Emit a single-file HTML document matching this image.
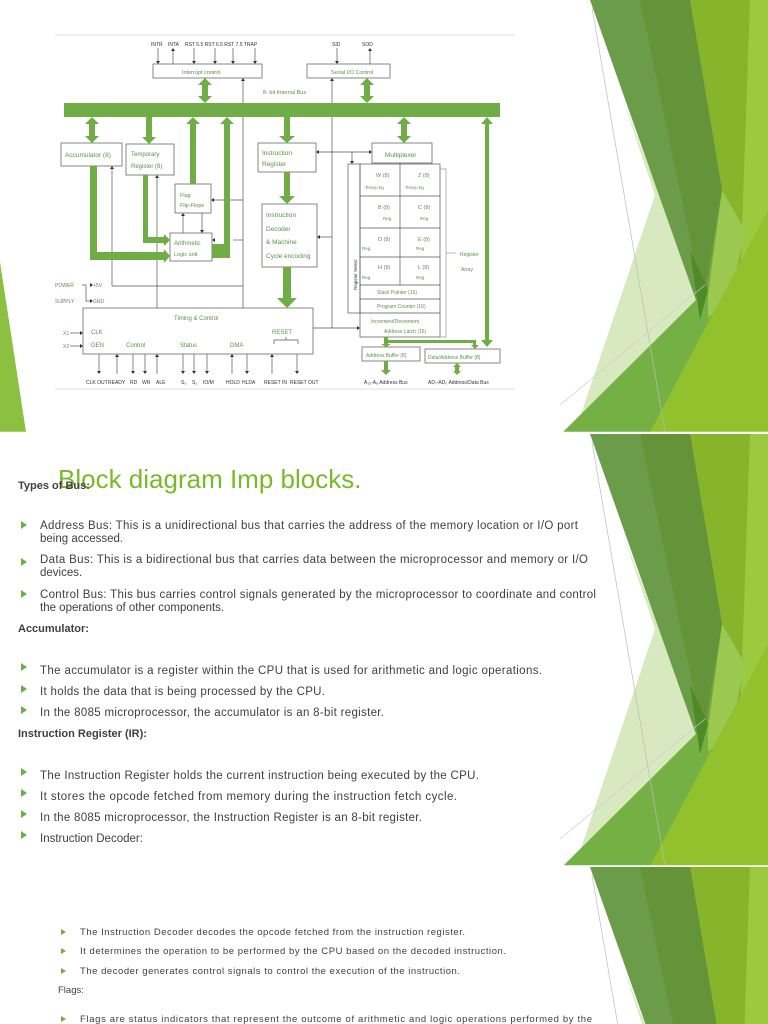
<!DOCTYPE html>
<html><head><meta charset="utf-8"><style>
html,body{margin:0;padding:0;background:#fff;width:768px;height:1024px;overflow:hidden}
svg{display:block}
.t{font-family:"Liberation Sans",sans-serif}
</style></head><body>
<svg width="768" height="1024" viewBox="0 0 768 1024" xmlns="http://www.w3.org/2000/svg">
<defs>
<clipPath id="cs"><rect x="0" y="0" width="768" height="432"/></clipPath>
<g id="deco">
<polygon points="690,0 768,0 768,432 650,432" fill="#86b52c"/>
<polygon points="750,0 768,0 768,432 735,432" fill="#9cc940"/>
<polygon points="722,190 745,230 730,300 705,320" fill="#9bc850"/>
<polygon points="623,100 700,300 600,432 575,432 655,195" fill="#d9e9bf"/>
<polygon points="590,0 690,0 722,190 703,320" fill="#6b9c4a"/>
<polygon points="640,0 690,0 722,190 703,300" fill="#649339"/>
<polygon points="563,432 708,288 708,432" fill="#74b043"/>
<polygon points="650,432 768,210 768,432" fill="#91c12d"/>
<polygon points="690,250 708,290 700,320" fill="#4e8a28"/>
<line x1="592" y1="8" x2="665" y2="432" stroke="#bbb" stroke-width="0.7"/>
<line x1="560" y1="405" x2="705" y2="285" stroke="#ccc" stroke-width="0.7"/>
</g>
</defs>

<use href="#deco"/>
<polygon points="0,262 26,432 0,432" fill="#8cc040"/>
<line x1="0" y1="432.5" x2="768" y2="432.5" stroke="#fff" stroke-width="1.5"/>
<use href="#deco" transform="translate(0,434)"/>
<g clip-path="url(#cs)" transform="translate(0,867)"><use href="#deco"/></g>
<line x1="0" y1="866" x2="768" y2="866" stroke="#fff" stroke-width="1.5"/>

<!-- DIAGRAM -->
<g class="t">
<line x1="55" y1="35" x2="515" y2="35" stroke="#dde" stroke-width="1"/>
<line x1="55" y1="389" x2="515" y2="389" stroke="#dde" stroke-width="1"/>
<g fill="none" stroke="#555" stroke-width="0.7">
<rect x="153" y="64" width="109" height="14"/>
<rect x="307" y="64" width="83" height="14"/>
<rect x="61" y="143" width="61" height="23"/>
<rect x="126" y="144" width="48" height="31"/>
<rect x="175" y="184" width="36" height="29"/>
<rect x="170" y="233" width="42" height="28"/>
<rect x="258" y="143" width="58" height="29"/>
<rect x="262" y="204" width="55" height="63"/>
<rect x="372" y="143" width="60" height="20"/>
<rect x="348" y="164" width="12" height="149"/>
<rect x="360" y="164" width="80" height="173"/>
<line x1="400" y1="164" x2="400" y2="285"/>
<line x1="360" y1="196" x2="440" y2="196"/><line x1="360" y1="228" x2="440" y2="228"/>
<line x1="360" y1="257" x2="440" y2="257"/><line x1="360" y1="285" x2="440" y2="285"/>
<line x1="360" y1="299" x2="440" y2="299"/><line x1="360" y1="313" x2="440" y2="313"/>
<path d="M440 169 H446 V337 H440" stroke="#999"/>
<line x1="446" y1="253" x2="456" y2="253" stroke="#999"/>
<rect x="83" y="308" width="230" height="46"/>
<rect x="362" y="347" width="58" height="14"/>
<rect x="425" y="349" width="75" height="14"/>
<line x1="243" y1="80" x2="243" y2="308"/>
<line x1="332" y1="80" x2="332" y2="328"/>
<line x1="332" y1="328" x2="357" y2="328"/>
<line x1="313" y1="328" x2="332" y2="328"/>
<line x1="112" y1="168" x2="112" y2="286"/>
<line x1="112" y1="286" x2="243" y2="286"/>
<line x1="157" y1="177" x2="157" y2="308"/>
<line x1="213" y1="200" x2="243" y2="200"/>
<line x1="233" y1="240" x2="243" y2="240"/>
<line x1="320" y1="237" x2="332" y2="237"/>
<line x1="202" y1="213" x2="202" y2="231"/>
<line x1="183" y1="216" x2="183" y2="233"/>
<line x1="319" y1="152" x2="369" y2="152"/>
<line x1="352" y1="152" x2="352" y2="162"/>
<path d="M82 285 H86 V301 H92"/>
<line x1="70" y1="333" x2="81" y2="333"/><line x1="70" y1="346" x2="81" y2="346"/>
<path d="M274 344 V340 H298 V344 M286 340 V337"/>
<line x1="158" y1="48" x2="158" y2="62"/><line x1="173" y1="50" x2="173" y2="64"/>
<line x1="194" y1="48" x2="194" y2="62"/><line x1="215" y1="48" x2="215" y2="62"/>
<line x1="233" y1="48" x2="233" y2="62"/><line x1="255" y1="48" x2="255" y2="62"/>
<line x1="337" y1="48" x2="337" y2="62"/><line x1="370" y1="50" x2="370" y2="64"/>
<line x1="99" y1="354" x2="99" y2="372"/><line x1="117" y1="356" x2="117" y2="374"/>
<line x1="133" y1="354" x2="133" y2="372"/><line x1="145" y1="354" x2="145" y2="372"/>
<line x1="157" y1="356" x2="157" y2="374"/><line x1="183" y1="354" x2="183" y2="372"/>
<line x1="194" y1="354" x2="194" y2="372"/><line x1="207" y1="354" x2="207" y2="372"/>
<line x1="232" y1="356" x2="232" y2="374"/><line x1="247" y1="354" x2="247" y2="372"/>
<line x1="272" y1="356" x2="272" y2="374"/><line x1="297" y1="354" x2="297" y2="372"/>
</g>
<g fill="#333">
<path d="M156 61 L160 61 L158 64Z M171 51 L175 51 L173 48Z M192 61 L196 61 L194 64Z M213 61 L217 61 L215 64Z M231 61 L235 61 L233 64Z M253 61 L257 61 L255 64Z M335 61 L339 61 L337 64Z M368 51 L372 51 L370 48Z"/>
<path d="M241 81 L245 81 L243 78Z M330 81 L334 81 L332 78Z M110 169 L114 169 L112 166Z M155 178 L159 178 L157 175Z"/>
<path d="M214 198 L214 202 L211 200Z M215 238 L215 242 L212 240Z M320 235 L320 239 L317 237Z M357 326 L357 330 L360 328Z"/>
<path d="M200 230 L204 230 L202 233Z M181 216 L185 216 L183 213Z M319 150 L319 154 L316 152Z M369 150 L369 154 L372 152Z M350 161 L354 161 L352 164Z"/>
<path d="M80 331 L80 335 L83 333Z M80 344 L80 348 L83 346Z M90 283 L90 287 L93 285Z M90 299 L90 303 L93 301Z"/>
<path d="M97 371 L101 371 L99 374Z M115 357 L119 357 L117 354Z M131 371 L135 371 L133 374Z M143 371 L147 371 L145 374Z M155 357 L159 357 L157 354Z M181 371 L185 371 L183 374Z M192 371 L196 371 L194 374Z M205 371 L209 371 L207 374Z M230 357 L234 357 L232 354Z M245 371 L249 371 L247 374Z M270 357 L274 357 L272 354Z M295 371 L299 371 L297 374Z"/>
</g>
<g fill="#70ad47">
<rect x="64" y="103" width="436" height="14"/>
<path d="M202 85 H198 L205 78 L212 85 H208 V96 H212 L205 103 L198 96 H202Z"/>
<path d="M364 85 H360 L367 78 L374 85 H370 V96 H374 L367 103 L360 96 H364Z"/>
<path d="M89 124 H85 L92 117 L99 124 H95 V136 H99 L92 143 L85 136 H89Z"/>
<path d="M146 117 V137 H142 L149 144 L156 137 H152 V117Z"/>
<path d="M190 184 V124 H186 L193 117 L200 124 H196 V184Z"/>
<path d="M212 244 H224 V124 H220 L227 117 L234 124 H230 V258 H212Z"/>
<path d="M284 117 V136 H279 L287 143 L295 136 H290 V117Z"/>
<path d="M284 172 V196 H279 L287 204 L295 196 H290 V172Z"/>
<path d="M283 267 V298 H277 L287 308 L297 298 H291 V267Z"/>
<path d="M401 124 H397 L404 117 L411 124 H407 V136 H411 L404 143 L397 136 H401Z"/>
<path d="M485 124 H481 L487 117 L493 124 H489 V340 H493 L487 347 L481 340 H485Z"/>
<path d="M90 166 H97 V252 H164 V249 L170 256 L164 263 V260 H90Z"/>
<path d="M143 175 H148 V237 H164 V234 L170 240 L164 246 V243 H143Z"/>
<path d="M384 337 H388 V340 H476 V345 H479 L475 349 L471 345 H473 V343 H388 V344 H391 L386 347 L381 344 H384Z"/>
<path d="M384 361 H388 V370 H391 L386 375 L381 370 H384Z"/>
<path d="M455 367 H453 L457 363 L461 367 H459 V371 H461 L457 375 L453 371 H455Z"/>
</g>
<g fill="#333" font-size="5">
<text x="151" y="46">INTR</text><text x="168" y="46">INTA</text>
<text x="185" y="46">RST 5.5 RST 6.5 RST 7.5 TRAP</text>
<text x="332" y="46">SID</text><text x="362" y="46">SOD</text>
<text x="86" y="384">CLK OUT</text><text x="108" y="384">READY</text><text x="130" y="384">RD</text>
<text x="142" y="384">WR</text><text x="156" y="384">ALE</text><text x="181" y="384">S₀</text>
<text x="192" y="384">S₁</text><text x="203" y="384">IO/M</text><text x="226" y="384">HOLD</text>
<text x="242" y="384">HLDA</text><text x="264" y="384">RESET IN</text><text x="290" y="384">RESET OUT</text>
<text x="364" y="384">A₁₅-A₈ Address Bus</text><text x="428" y="384">AD₇-AD₀ Address/Data Bus</text>
</g>
<g fill="#5f8f4a" font-size="5.5">
<text x="182" y="74">Interrupt control</text>
<text x="331" y="74">Serial I/O Control</text>
<text x="263" y="94">8- bit Internal Bus</text>
<text x="65" y="157" font-size="6.5">Accumulator (8)</text>
<text x="131" y="156" font-size="6">Temporary</text><text x="131" y="168" font-size="6">Register (8)</text>
<text x="180" y="197">Flag</text><text x="180" y="207">Flip-Flops</text>
<text x="174" y="245" font-size="6">Arithmetic</text><text x="174" y="256">Logic unit</text>
<text x="262" y="155" font-size="6.5">Instruction</text><text x="262" y="166" font-size="6.5">Register</text>
<text x="266" y="217" font-size="6.5">Instruction</text><text x="266" y="231" font-size="6.5">Decoder</text>
<text x="266" y="244" font-size="6.5">&amp; Machine</text><text x="266" y="258" font-size="6.5">Cycle encoding</text>
<text x="385" y="157" font-size="6.5">Multiplexer</text>
<text x="376" y="177">W (8)</text><text x="365" y="189" font-size="4.5">Temp.reg</text>
<text x="418" y="177">Z (8)</text><text x="405" y="189" font-size="4.5">Temp.reg</text>
<text x="378" y="209">B (8)</text><text x="383" y="220" font-size="4.5">Reg.</text>
<text x="418" y="209">C (8)</text><text x="420" y="220" font-size="4.5">Reg.</text>
<text x="378" y="241">D (8)</text><text x="362" y="250" font-size="4.5">Reg.</text>
<text x="418" y="241">E (8)</text><text x="416" y="250" font-size="4.5">Reg.</text>
<text x="378" y="269">H (8)</text><text x="362" y="279" font-size="4.5">Reg.</text>
<text x="418" y="269">L (8)</text><text x="416" y="279" font-size="4.5">Reg.</text>
<text x="377" y="294" font-size="5">Stack Pointer (16)</text>
<text x="377" y="308" font-size="5">Program Counter (16)</text>
<text x="371" y="323" font-size="5">Increment/Decrement</text>
<text x="384" y="333" font-size="5">Address Latch (16)</text>
<text x="357" y="290" font-size="4.5" fill="#333" transform="rotate(-90 357 290)">Register Select</text>
<text x="460" y="256" font-size="5">Register</text><text x="461" y="271" font-size="5">Array</text>
<text x="55" y="287" font-size="5">POWER</text><text x="55" y="303" font-size="5">SUPPLY</text>
<text x="93" y="287" font-size="5">+5V</text><text x="93" y="303" font-size="5">GND</text>
<text x="63" y="335" font-size="5">X1</text><text x="63" y="348" font-size="5">X2</text>
<text x="174" y="320" font-size="6">Timing &amp; Control</text>
<text x="91" y="334" font-size="6">CLK</text><text x="91" y="347" font-size="6">GEN</text>
<text x="126" y="347" font-size="6">Control</text><text x="180" y="347" font-size="6">Status</text>
<text x="230" y="347" font-size="6">DMA</text><text x="272" y="334" font-size="6">RESET</text>
<text x="366" y="357" font-size="5">Address Buffer (8)</text>
<text x="428" y="359" font-size="5">Data/Address Buffer (8)</text>
</g>
</g>

<!-- SLIDE 2 TEXT -->
<g class="t" fill="#404040" font-size="11.5">
<text x="58" y="488" font-size="26" fill="#7ab929">Block diagram Imp blocks.</text>
<text x="18" y="489" font-weight="bold" font-size="11">Types of Bus:</text>
<g fill="#70ad47"><path d="M21 521 L27 525 L21 529Z M21 558 L27 562 L21 566Z M21 590 L27 594 L21 598Z M21 663 L27 667 L21 671Z M21 685 L27 689 L21 693Z M21 706 L27 710 L21 714Z M21 768 L27 772 L21 776Z M21 789 L27 793 L21 797Z M21 810 L27 814 L21 818Z M21 831 L27 835 L21 839Z"/></g>
<text x="40" y="529" textLength="538">Address Bus: This is a unidirectional bus that carries the address of the memory location or I/O port</text>
<text x="40" y="542">being accessed.</text>
<text x="40" y="563" textLength="548">Data Bus: This is a bidirectional bus that carries data between the microprocessor and memory or I/O</text>
<text x="40" y="576">devices.</text>
<text x="40" y="598" textLength="556">Control Bus: This bus carries control signals generated by the microprocessor to coordinate and control</text>
<text x="40" y="611">the operations of other components.</text>
<text x="18" y="632" font-weight="bold" font-size="11">Accumulator:</text>
<text x="40" y="674" textLength="502">The accumulator is a register within the CPU that is used for arithmetic and logic operations.</text>
<text x="40" y="695" textLength="285">It holds the data that is being processed by the CPU.</text>
<text x="40" y="716" textLength="344">In the 8085 microprocessor, the accumulator is an 8-bit register.</text>
<text x="18" y="737" font-weight="bold" font-size="11">Instruction Register (IR):</text>
<text x="40" y="779" textLength="439">The Instruction Register holds the current instruction being executed by the CPU.</text>
<text x="40" y="800" textLength="417">It stores the opcode fetched from memory during the instruction fetch cycle.</text>
<text x="40" y="821" textLength="382">In the 8085 microprocessor, the Instruction Register is an 8-bit register.</text>
<text x="40" y="842">Instruction Decoder:</text>
</g>

<!-- SLIDE 3 TEXT -->
<g class="t" fill="#404040" font-size="9.5">
<g fill="#70ad47"><path d="M61 929 L66 932 L61 935Z M61 948 L66 951 L61 954Z M61 968 L66 971 L61 974Z M61 1016 L66 1019 L61 1022Z"/></g>
<text x="80" y="935" textLength="385">The Instruction Decoder decodes the opcode fetched from the instruction register.</text>
<text x="80" y="954" textLength="426">It determines the operation to be performed by the CPU based on the decoded instruction.</text>
<text x="80" y="974" textLength="380">The decoder generates control signals to control the execution of the instruction.</text>
<text x="58" y="993">Flags:</text>
<text x="80" y="1022" textLength="512">Flags are status indicators that represent the outcome of arithmetic and logic operations performed by the</text>
</g>
</svg>
</body></html>
